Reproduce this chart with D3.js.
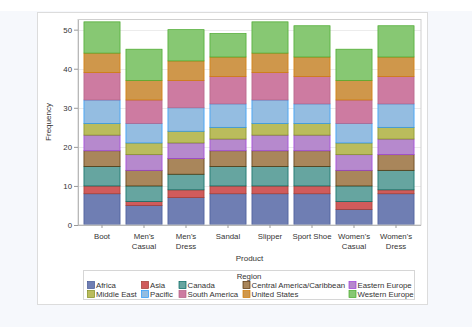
<!DOCTYPE html>
<html>
<head>
<meta charset="utf-8">
<script src="https://cdn.jsdelivr.net/npm/d3@7"></script>
<style>
  body { margin: 0; background: #fff; }
  svg { display: block; font-family: "Liberation Sans", Arial, sans-serif; }
</style>
</head>
<body>
<svg id="chart" width="474" height="327"></svg>
<script>
// data
var products = ["Boot", "Men's Casual", "Men's Dress", "Sandal", "Slipper", "Sport Shoe", "Women's Casual", "Women's Dress"];
var regions = ["Africa", "Asia", "Canada", "Central America/Caribbean", "Eastern Europe",
               "Middle East", "Pacific", "South America", "United States", "Western Europe"];
var africa        = [8, 5, 7, 8, 8, 8, 4, 8];
var asia          = [2, 1, 2, 2, 2, 2, 2, 1];
var canada        = [5, 4, 4, 5, 5, 5, 4, 5];
var centralAm     = [4, 4, 4, 4, 4, 4, 4, 4];
var easternEurope = [4, 4, 4, 3, 4, 4, 4, 4];
var middleEast    = [3, 3, 3, 3, 3, 3, 3, 3];
var pacific       = [6, 5, 6, 6, 6, 5, 5, 6];
var southAmerica  = [7, 6, 7, 7, 7, 7, 6, 7];
var unitedStates  = [5, 5, 5, 5, 5, 5, 5, 5];
var westernEurope = [8, 8, 8, 6, 8, 8, 8, 8];
var yTicks = [0, 10, 20, 30, 40, 50];

var series = [africa, asia, canada, centralAm, easternEurope, middleEast, pacific, southAmerica, unitedStates, westernEurope];
var fills = ["#6F7EB3", "#D05B5B", "#66A5A0", "#A9865B", "#B689CD", "#BABC5C", "#94BDE1", "#CD7BA1", "#CF974B", "#87C873"];
var strokes = ["#445694", "#A23A2E", "#01665E", "#543005", "#9D3CDB", "#7F8E1F", "#2597FA", "#B26084", "#D17800", "#47A82A"];

var table = products.map(function(p, i) {
  var row = {product: p};
  regions.forEach(function(r, j) { row[r] = series[j][i]; });
  return row;
});
var stacked = d3.stack().keys(regions)(table);

var svg = d3.select("#chart");
var textColor = "#333";

// background panels
svg.append("rect").attr("x", 0).attr("y", 11).attr("width", 472).attr("height", 316).attr("fill", "#f6f8fc");
svg.append("rect").attr("x", 37.5).attr("y", 12.5).attr("width", 390).attr("height", 292)
  .attr("fill", "#fff").attr("stroke", "#dcdcdc");

var plot = {left: 78, right: 421, top: 19.5, bottom: 225};

var x = d3.scaleBand().domain(products).range([81, 417]).paddingInner(0.14).paddingOuter(0.07);
var y = d3.scaleLinear().domain([0, 52.6]).range([plot.bottom, plot.top]);

// gridlines
svg.append("g").selectAll("line").data(yTicks.slice(1)).enter().append("line")
  .attr("x1", plot.left).attr("x2", plot.right)
  .attr("y1", function(d) { return Math.round(y(d)) + 0.5; })
  .attr("y2", function(d) { return Math.round(y(d)) + 0.5; })
  .attr("stroke", "#ececec");

// bars
svg.append("g").selectAll("g").data(stacked).enter().append("g")
  .attr("fill", function(d, i) { return fills[i]; })
  .attr("stroke", function(d, i) { return strokes[i]; })
  .attr("stroke-width", 0.7)
  .selectAll("rect").data(function(d) { return d; }).enter().append("rect")
    .attr("x", function(d) { return x(d.data.product); })
    .attr("width", x.bandwidth())
    .attr("y", function(d) { return y(d[1]); })
    .attr("height", function(d) { return y(d[0]) - y(d[1]); });

// plot frame
svg.append("rect").attr("x", plot.left).attr("y", plot.top)
  .attr("width", plot.right - plot.left).attr("height", plot.bottom - plot.top)
  .attr("fill", "none").attr("stroke", "#cfcfcf");

// y axis
var yAxis = svg.append("g").attr("transform", "translate(" + plot.left + ",0)")
  .call(d3.axisLeft(y).tickValues(yTicks).tickSize(4).tickSizeOuter(0));
yAxis.select(".domain").attr("stroke", "#b8b8b8");
yAxis.selectAll(".tick line").attr("stroke", "#999");
yAxis.selectAll(".tick text").attr("fill", textColor).attr("font-size", 7.8)
  .attr("font-family", "Liberation Sans, Arial, sans-serif").attr("x", -6);

// x axis
var xAxis = svg.append("g").attr("transform", "translate(0," + plot.bottom + ")")
  .call(d3.axisBottom(x).tickSize(3).tickSizeOuter(0));
xAxis.select(".domain").attr("stroke", "#b8b8b8").attr("d", "M" + plot.left + ",0.5H" + plot.right);
xAxis.selectAll(".tick line").attr("stroke", "#999");
xAxis.selectAll(".tick text").remove();
xAxis.selectAll(".tick").each(function(d) {
  var parts = d.indexOf("'s ") > 0 ? [d.slice(0, d.indexOf(" ")), d.slice(d.indexOf(" ") + 1)] : [d];
  var t = d3.select(this).append("text").attr("fill", textColor).attr("font-size", 7.8)
    .attr("font-family", "Liberation Sans, Arial, sans-serif").attr("text-anchor", "middle");
  parts.forEach(function(p, i) {
    t.append("tspan").attr("x", 0).attr("y", 14 + i * 9.8).text(p);
  });
});

// axis titles
svg.append("text").attr("transform", "translate(51,122) rotate(-90)")
  .attr("text-anchor", "middle").attr("font-size", 8).attr("fill", textColor).text("Frequency");
svg.append("text").attr("x", (plot.left + plot.right) / 2).attr("y", 261)
  .attr("text-anchor", "middle").attr("font-size", 8).attr("fill", textColor).text("Product");

// legend
svg.append("rect").attr("x", 83.5).attr("y", 270.5).attr("width", 331).attr("height", 29)
  .attr("fill", "#fff").attr("stroke", "#d6d6d6");
svg.append("text").attr("x", 249).attr("y", 279).attr("text-anchor", "middle")
  .attr("font-size", 7.8).attr("fill", textColor).text("Region");
var colX = [87.5, 141.5, 179, 243, 349];
var rowY = [285, 294];
var leg = svg.append("g").selectAll("g").data(regions).enter().append("g")
  .attr("transform", function(d, i) { return "translate(" + colX[i % 5] + "," + rowY[Math.floor(i / 5)] + ")"; });
leg.append("rect").attr("x", 0).attr("y", -3.5).attr("width", 7).attr("height", 7)
  .attr("fill", function(d, i) { return fills[i]; })
  .attr("stroke", function(d, i) { return strokes[i]; }).attr("stroke-width", 0.7);
leg.append("text").attr("x", 8.5).attr("y", 3).attr("font-size", 7.8).attr("fill", textColor)
  .text(function(d) { return d; });
</script>
</body>
</html>
